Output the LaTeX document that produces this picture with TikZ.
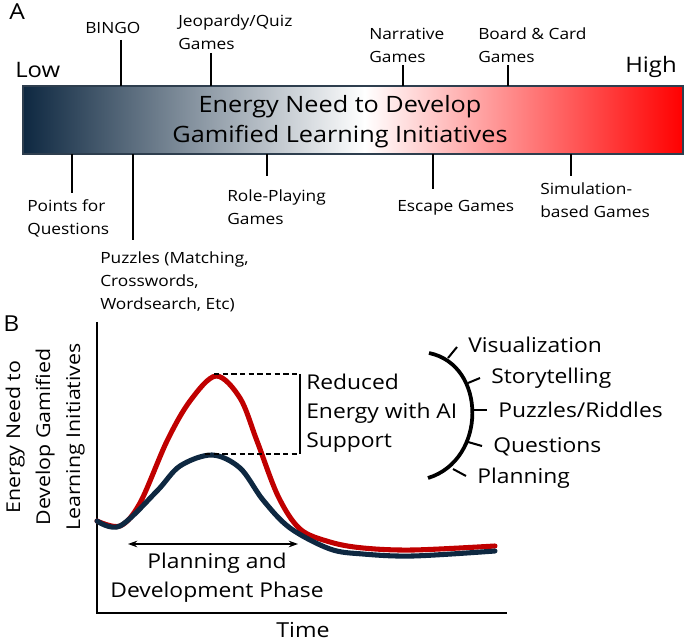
\documentclass[tikz,border=0pt]{standalone}
\usepackage{fontspec}
\setmainfont{Open Sans}[FakeStretch=1.12]
\usetikzlibrary{arrows.meta}
\definecolor{navy}{HTML}{0E2841}
\definecolor{dred}{HTML}{C00000}
\definecolor{pure}{HTML}{FF0000}
\definecolor{edge}{HTML}{2E3E4E}
\begin{document}
\begin{tikzpicture}[x=0.75pt,y=-0.75pt,
  lbl/.style={anchor=base west, inner sep=0pt, align=left, font=\fontsize{11.6}{17.25}\selectfont},
  big/.style={anchor=base west, inner sep=0pt, font=\fontsize{16}{18}\selectfont},
  blbl/.style={anchor=base west, inner sep=0pt, align=left, font=\fontsize{15.3}{21.75}\selectfont},
  panel/.style={anchor=base west, inner sep=0pt, font=\fontsize{16.5}{18}\selectfont},
  tickline/.style={line width=1.5pt, black},
  curve/.style={line width=3.8pt, line cap=round, line join=round}]
\useasboundingbox (0,0) rectangle (685,641);

% ---------- Panel A ----------
\node[panel] (A) at (9,20) {A};
\shade[left color=navy, right color=white] (23,86) rectangle (365,154);
\shade[left color=white, right color=pure] (364.5,86) rectangle (683,154);
\draw[edge, line width=1.1pt] (23,86) rectangle (683,154);
\node[inner sep=0pt, align=center, font=\fontsize{16.9}{22.5}\selectfont, anchor=base] (bartext) at (340,143)
  {Energy Need to Develop\\Gamified Learning Initiatives};

\node[big] (low) at (15,78) {Low};
\node[big] (high) at (625,73) {High};

% top labels
\node[lbl] (bingo) at (85,34) {BINGO};
\node[lbl] (jeop) at (178,50) {Jeopardy/Quiz\\Games};
\node[lbl] (narr) at (369,63) {Narrative\\Games};
\node[lbl] (board) at (478,63) {Board \& Card\\Games};
\coordinate (t1) at (121,40);
\coordinate (t2) at (211,53);
\coordinate (t3) at (403,65);
\coordinate (t4) at (508,65);
\draw[tickline] (t1) -- (121,86);
\draw[tickline] (t2) -- (211,86);
\draw[tickline] (t3) -- (403,86);
\draw[tickline] (t4) -- (508,86);

% bottom labels
\node[lbl] (points) at (27,235) {Points for\\Questions};
\node[lbl] (puzz) at (100,310) {Puzzles (Matching,\\Crosswords,\\Wordsearch, Etc)};
\node[lbl] (role) at (227,225) {Role-Playing\\Games};
\node[lbl] (escape) at (397,212) {Escape Games};
\node[lbl] (sim) at (540,218) {Simulation-\\based Games};
\coordinate (b1) at (72,193);
\coordinate (b2) at (133,240);
\coordinate (b3) at (267,176);
\coordinate (b4) at (433,189);
\coordinate (b5) at (571,176);
\draw[tickline] (72,154) -- (b1);
\draw[tickline] (133,154) -- (b2);
\draw[tickline] (267,154) -- (b3);
\draw[tickline] (433,154) -- (b4);
\draw[tickline] (571,154) -- (b5);

% ---------- Panel B ----------
\node[panel] (B) at (3,332) {B};
\coordinate (origin) at (97,613);
\coordinate (ytop) at (97,322);
\coordinate (xend) at (507,613);
\draw[line width=1.2pt] (ytop) -- (origin) -- (xend);

\node[inner sep=0pt, rotate=90, anchor=base, align=center, font=\fontsize{14.3}{22.5}\selectfont] (ylab) at (80,437)
  {Energy Need to\\Develop Gamified\\Learning Initiatives};
\node[inner sep=0pt, anchor=base, font=\fontsize{15.5}{18}\selectfont] (time) at (303,637) {Time};

% curves
\draw[curve, dred] plot[smooth, tension=0.55] coordinates {(97,521) (120,526) (140,503) (167,441) (190,401) (216,376) (240,398) (257,441) (278,496) (300,529) (330,542) (363,548) (413,550) (495,546)};
\draw[curve, navy] plot[smooth, tension=0.55] coordinates {(97,521) (120,526) (157,491) (180,466) (212,455) (240,468) (263,500) (290,528) (330,549) (363,554) (413,556) (495,551)};

% dashed bracket
\coordinate (pk1) at (214,374);
\coordinate (pk2) at (205,454);
\coordinate (br1) at (300,374);
\coordinate (br2) at (300,454);
\draw[line width=1.1pt, dash pattern=on 4pt off 2.5pt] (pk1) -- (br1);
\draw[line width=1.1pt, dash pattern=on 4pt off 2.5pt] (pk2) -- (br2);
\draw[line width=1.1pt] (br1) -- (br2);
\node[blbl] (reduced) at (306,447) {Reduced\\Energy with AI\\Support};

% double arrow
\coordinate (a1) at (128,544);
\coordinate (a2) at (298,544);
\draw[line width=0.9pt, {Stealth[length=7pt,width=5pt]}-{Stealth[length=7pt,width=5pt]}] (a1) -- (a2);
\node[inner sep=0pt, anchor=base, align=center, font=\fontsize{15.3}{21.75}\selectfont] (phase) at (217,597)
  {Planning and\\Development Phase};

% arc with AI support items
\coordinate (arcA) at (429,353);
\coordinate (arcB) at (428,478);
\draw[line width=2.8pt] (arcA) .. controls (487,365) and (487,460) .. (arcB);
\node[blbl] (vis) at (468,353) {Visualization};
\node[blbl] (story) at (491,383) {Storytelling};
\node[blbl] (pr) at (498,417) {Puzzles/Riddles};
\node[blbl] (quest) at (493,452) {Questions};
\node[blbl] (plan) at (477,483) {Planning};
\draw[tickline] (448,358) -- (457,347);
\draw[tickline] (468,383) -- (480,378);
\draw[tickline] (472,410) -- (487,410);
\draw[tickline] (468,442) -- (482,446);
\draw[tickline] (453,469) -- (466,476);
\end{tikzpicture}
\end{document}
